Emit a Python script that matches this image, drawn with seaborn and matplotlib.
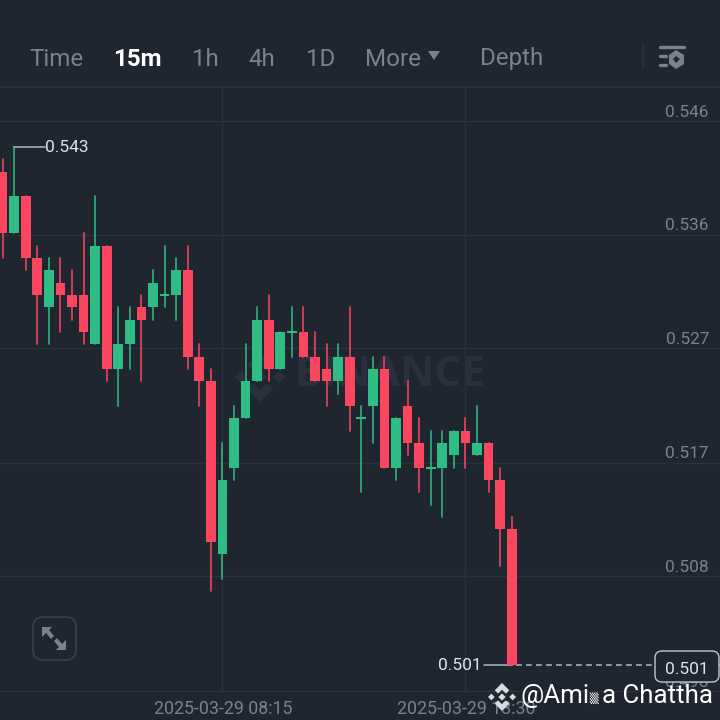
import numpy as np
import pandas as pd
import matplotlib
matplotlib.use('Agg')
import matplotlib.pyplot as plt
from matplotlib.patches import FancyBboxPatch, Polygon
from matplotlib.transforms import Affine2D
import seaborn as sns

# Candle data
opens = [.541, .536, .539, .534, .530, .532, .531, .531, .527, .535, .525, .527, .530, .530, .531,
         .531, .533, .526, .524, .510, .517, .521, .524, .529, .525, .528, .528, .526, .525, .524,
         .526, .521, .522, .525, .517, .522, .519, .517, .517, .518, .520, .518, .519, .516, .512]
closes = [.536, .539, .534, .531, .533, .531, .530, .528, .535, .525, .527, .529, .529, .532, .531,
          .533, .526, .524, .511, .516, .521, .524, .529, .525, .528, .528, .526, .524, .524, .526,
          .522, .521, .525, .517, .521, .519, .517, .517, .519, .520, .519, .519, .516, .512, .501]
highs = [.542, .543, .539, .535, .534, .534, .533, .536, .539, .535, .530, .530, .531, .533, .535,
         .534, .535, .527, .525, .519, .522, .527, .530, .531, .528, .530, .530, .528, .527, .527,
         .530, .522, .526, .526, .521, .524, .521, .520, .520, .520, .521, .522, .519, .517, .513]
lows = [.534, .536, .533, .527, .527, .528, .529, .527, .527, .524, .522, .525, .524, .529, .530,
        .529, .525, .522, .507, .508, .516, .521, .524, .524, .525, .526, .526, .524, .522, .523,
        .520, .515, .519, .517, .516, .518, .515, .514, .513, .517, .517, .518, .515, .509, .501]

grid_prices = [.5451, .5359, .5267, .5174, .5082, .4989]
price_labels = ['0.546', '0.536', '0.527', '0.517', '0.508', '0.498']
time_candles = [19, 40]
time_labels = ['2025-03-29 08:15', '2025-03-29 13:30']
menu_items = ['Time', '15m', '1h', '4h', '1D', 'More', 'Depth']
menu_x = [29.5, 113.5, 191.5, 248, 305.5, 365, 480]

BG = '#1f2630'
GRID = '#2b323e'
GREEN = '#2ebd85'
RED = '#fb4660'
MUTED = '#7b828f'
LABEL = '#dfe2e7'
XLIM = (-0.22, 62.0)
YLIM = (0.49654, 0.55492)

sns.set_theme(style='dark', rc={'figure.facecolor': BG, 'axes.facecolor': BG})
plt.rcParams['font.family'] = ['Roboto', 'DejaVu Sans']

fig = plt.figure(figsize=(7.2, 7.2), dpi=100)
ax = fig.add_axes([0, 0, 1, 1])
ax.set_xlim(*XLIM)
ax.set_ylim(*YLIM)
ax.set_axis_off()

# pixel coordinates of the screenshot, for the app's chrome
px = Affine2D().scale(1 / 720, -1 / 720).translate(0, 1) + fig.transFigure


def ptext(x, y, s, **kw):
    kw.setdefault('va', 'center')
    ax.text(x, y, s, transform=px, clip_on=False, **kw)


def pline(xs, ys, color, lw):
    ax.add_line(plt.Line2D(xs, ys, transform=px, color=color, lw=lw, zorder=2))


def poly(points, color, zorder=2):
    ax.add_patch(Polygon(points, closed=True, transform=px, fc=color, ec='none', zorder=zorder))


def binance_logo(cx, cy, r, color, zorder=2):
    def diamond(dx, dy, h):
        return [(cx + dx * r, cy + (dy - h) * r), (cx + (dx + h) * r, cy + dy * r),
                (cx + dx * r, cy + (dy + h) * r), (cx + (dx - h) * r, cy + dy * r)]
    poly(diamond(0, 0, .26), color, zorder)
    poly(diamond(-.76, 0, .24), color, zorder)
    poly(diamond(.76, 0, .24), color, zorder)
    for s in (-1, 1):
        chevron = [(-.52, .48), (0, 1), (.52, .48), (.28, .24), (0, .52), (-.28, .24)]
        poly([(cx + a * r, cy + s * b * r) for a, b in chevron], color, zorder)


# grid
for p in grid_prices:
    ax.axhline(p, color=GRID, lw=1, zorder=1)
for c in time_candles:
    ax.axvline(c, ymin=(720 - 691) / 720, ymax=1 - 87 / 720, color=GRID, lw=1, zorder=1)
pline([0, 720], [87, 87], GRID, 1.2)

# watermark behind the candles
binance_logo(260, 377, 25, '#2a313c', zorder=2)
ptext(390, 375, 'BINANCE', color='#2a313c', fontsize=30.5, fontweight='bold', ha='center',
      family='Open Sans', zorder=2)

df = pd.DataFrame({'i': range(len(opens)), 'open': opens, 'close': closes, 'high': highs, 'low': lows})
df['dir'] = np.where(df['close'] >= df['open'], 'up', 'down')
palette = {'up': GREEN, 'down': RED}

wicks = df.melt(id_vars=['i', 'dir'], value_vars=['low', 'high'], value_name='price')
sns.lineplot(data=wicks, x='i', y='price', hue='dir', units='i', estimator=None, sort=False,
             palette=palette, linewidth=1.3, legend=False, ax=ax, zorder=3, alpha=0.85)

# doji candles still show as a thin tick
height = np.maximum((df['close'] - df['open']).abs(), 0.00017)
bottom = np.where(height > 0.00017, df[['open', 'close']].min(axis=1), df['open'] - 0.00008)
ax.bar(df['i'], height, bottom=bottom, width=0.84, color=df['dir'].map(palette), lw=0, zorder=4)
ax.set_xlim(*XLIM)
ax.set_ylim(*YLIM)
ax.set_xlabel('')
ax.set_ylabel('')

# high / low markers and current price line
last = len(opens) - 1
ax.plot([1, 3.65], [max(highs)] * 2, color='#a5aab2', lw=1.2, zorder=3)
ax.annotate('0.543', (3.65, max(highs)), xytext=(0, -0.6), textcoords='offset points', color=LABEL,
            fontsize=12.5, va='center')
ax.plot([41.6, last], [min(lows)] * 2, color='#a5aab2', lw=1.2, zorder=3)
ax.annotate('0.501', (41.6, min(lows)), xytext=(-1.5, -0.6), textcoords='offset points', color=LABEL,
            fontsize=12.5, va='center', ha='right')
ax.plot([last + .4, XLIM[1]], [min(lows)] * 2, color='#a5aab2', lw=1.2, ls=(0, (3.5, 2.5)), zorder=3)

# axis labels
for p, lab in zip(grid_prices, price_labels):
    ax.annotate(lab, (1, p), xycoords=('axes fraction', 'data'), xytext=(-8, 6.4), textcoords='offset points',
                color=MUTED, fontsize=12.4, va='center', ha='right', zorder=2)
for c, lab in zip(time_candles, time_labels):
    ax.annotate(lab, (c, 0), xycoords=('data', 'axes fraction'), xytext=(0.5, 8), textcoords='offset points',
                color=MUTED, fontsize=12.8, va='center', ha='center', zorder=2)

# current price box
ax.add_patch(FancyBboxPatch((659, 655), 56, 23, boxstyle='round,pad=4,rounding_size=7', transform=px,
                            fc=BG, ec='#c3c7ce', lw=1, zorder=5))
ptext(687, 669, '0.501', color=LABEL, fontsize=12.5, ha='center', zorder=6)

# top menu
for x, s in zip(menu_x, menu_items):
    active = s == '15m'
    ptext(x, 59, s, color='white' if active else MUTED, fontsize=17.4, fontweight='bold' if active else 'normal')
poly([(428, 51), (440, 51), (434, 60)], MUTED)
pline([643, 643], [44, 68], GRID, 1.2)

# settings icon
pline([660, 684], [47, 47], MUTED, 2.4)
pline([660, 666], [56, 56], MUTED, 2.4)
pline([660, 666], [65, 65], MUTED, 2.4)
poly([(676, 50), (684, 55), (684, 64), (676, 69), (669, 64), (669, 55)], MUTED)
poly([(676, 56), (680, 59), (676, 63), (673, 59)], BG)

# expand button
ax.add_patch(FancyBboxPatch((38, 622), 33, 33, boxstyle='round,pad=5,rounding_size=10', transform=px,
                            fc='none', ec='#363d49', lw=1.4, zorder=2))
poly([(42, 627), (52, 627), (49, 630), (54, 636), (51, 639), (46, 633), (42, 637)], MUTED)
poly([(66, 650), (56, 650), (59, 647), (54, 641), (57, 638), (62, 644), (66, 640)], MUTED)

# overlay signature
binance_logo(502, 697, 14, '#d9dce0', zorder=7)
sig = dict(color='white', fontsize=18.6, zorder=8)
ptext(520, 696, '@Ami', **sig)
ptext(593.5, 698, '\u2592', color='white', fontsize=8, ha='center', family='DejaVu Sans', zorder=8)
ptext(602, 696, 'a Chattha', **sig)

fig.savefig('out.png', dpi=100, facecolor=BG)
